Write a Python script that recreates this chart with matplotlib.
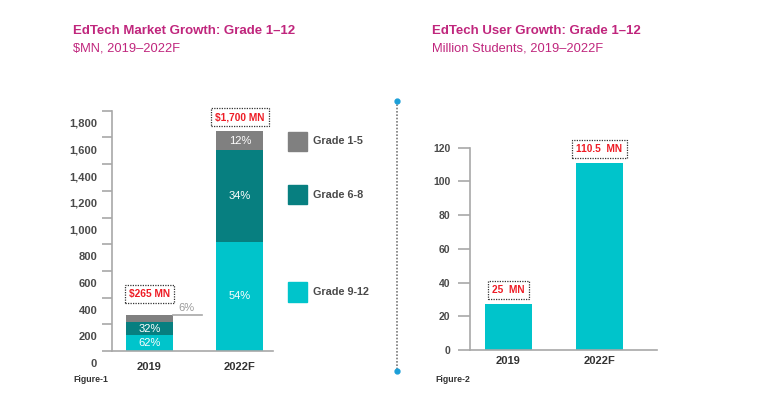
import matplotlib.pyplot as plt
from matplotlib.transforms import ScaledTranslation
from matplotlib.lines import Line2D
import numpy as np

plt.rcParams['font.family'] = ['Liberation Sans', 'DejaVu Sans']

# Figure-1 data: market size ($MN) split by grade band
years = ["2019", "2022F"]
grade_9_12 = [117, 817]
grade_6_8 = [100, 688]
grade_1_5 = [50, 142]
pct_9_12 = ["62%", "54%"]
pct_6_8 = ["32%", "34%"]
pct_1_5 = ["6%", "12%"]
market_labels = ["$265 MN", "$1,700 MN"]
market_ticks = [0, 200, 400, 600, 800, 1000, 1200, 1400, 1600, 1800]

# Figure-2 data: users (million students)
users = [27.5, 111]
user_labels = ["25  MN", "110.5  MN"]
user_ticks = [0, 20, 40, 60, 80, 100, 120]

MAGENTA = "#c0267d"
C_1_5 = "#808080"
C_6_8 = "#077f80"
C_9_12 = "#00c4cb"
AXIS = "#a8a8a8"
TXT = "#4a4a4a"

fig = plt.figure(figsize=(7.68, 3.97), dpi=100)

def px(x, y):
    return x / 768, 1 - y / 397

# titles
fig.text(*px(73, 31), "EdTech Market Growth: Grade 1–12", color=MAGENTA,
         fontsize=9.5, fontweight="bold", va="center")
fig.text(*px(73, 48.5), "$MN, 2019–2022F", color=MAGENTA, fontsize=9.3, va="center")
fig.text(*px(432, 31), "EdTech User Growth: Grade 1–12", color=MAGENTA,
         fontsize=9.5, fontweight="bold", va="center")
fig.text(*px(432, 48.5), "Million Students, 2019–2022F", color=MAGENTA, fontsize=9.3, va="center")

# ---- Figure 1: stacked bars
ax1 = fig.add_axes([112 / 768, 46 / 397, 161 / 768, 240.3 / 397])
x = np.arange(len(years))
w = 0.52
b1 = ax1.bar(x, grade_9_12, w, color=C_9_12, label="Grade 9-12")
b2 = ax1.bar(x, grade_6_8, w, bottom=grade_9_12, color=C_6_8, label="Grade 6-8")
base2 = np.array(grade_9_12) + np.array(grade_6_8)
b3 = ax1.bar(x, grade_1_5, w, bottom=base2, color=C_1_5, label="Grade 1-5")
totals = base2 + np.array(grade_1_5)

ax1.set_xlim(-0.414, 1.365)
ax1.set_ylim(0, 1800)
ax1.set_yticks(market_ticks)
ax1.set_yticklabels([f"{t:,}" for t in market_ticks])
ax1.set_xticks(x)
ax1.set_xticklabels(years)
for s in ["top", "right"]:
    ax1.spines[s].set_visible(False)
for s in ["left", "bottom"]:
    ax1.spines[s].set_color(AXIS)
    ax1.spines[s].set_linewidth(1.2)
ax1.tick_params(axis="y", length=7.2, width=1.2, color=AXIS, pad=3.5,
                labelsize=8, labelcolor=TXT)
ax1.tick_params(axis="x", length=0, pad=8, labelsize=8, labelcolor="#333333")
for lab in ax1.get_yticklabels() + ax1.get_xticklabels():
    lab.set_fontweight("bold")
# labels in the original sit half a step below their ticks
shift = ScaledTranslation(0, -0.12, fig.dpi_scale_trans)
for lab in ax1.get_yticklabels():
    lab.set_transform(lab.get_transform() + shift)

# percentages inside segments
for i in range(len(years)):
    ax1.text(x[i], grade_9_12[i] / 2, pct_9_12[i], color="white", ha="center",
             va="center", fontsize=8)
    ax1.text(x[i], grade_9_12[i] + grade_6_8[i] / 2, pct_6_8[i], color="white",
             ha="center", va="center", fontsize=8)
ax1.text(x[1], base2[1] + grade_1_5[1] / 2, pct_1_5[1], color="white",
         ha="center", va="center", fontsize=8)
# small segment of 2019 labelled outside with a leader line
ax1.plot([x[0] + w / 2, 0.58], [totals[0], totals[0]], color=AXIS, lw=1.2, clip_on=False)
ax1.text(0.41, totals[0] + 15, pct_1_5[0], color="#9a9a9a", ha="center",
         va="bottom", fontsize=8)

box = dict(boxstyle="square,pad=0.4", fc="white", ec="#333333", ls=(0, (1, 1)), lw=0.9)
offs = [15.5, 10]
for i in range(len(years)):
    ax1.annotate(market_labels[i], (x[i], totals[i]), xytext=(0, offs[i]),
                 textcoords="offset points", ha="center", va="center",
                 color="#ee1c25", fontsize=7.3, fontweight="bold", bbox=box,
                 annotation_clip=False)

# legend drawn as squares + text to the right of the bars
leg_items = [(b3, "Grade 1-5", 141.5), (b2, "Grade 6-8", 194.5), (b1, "Grade 9-12", 292)]
for bars, name, yy in leg_items:
    fx, fy = px(287.5, yy)
    fig.patches.append(plt.Rectangle((fx, fy - 9.7 / 397), 19.3 / 768, 19.4 / 397,
                                     transform=fig.transFigure,
                                     color=bars.patches[0].get_facecolor()))
    fig.text(*px(313, yy), name, color=TXT, fontsize=7.8, fontweight="bold", va="center")

fig.text(*px(73, 380), "Figure-1", color="#333333", fontsize=6.3, fontweight="bold", va="center")

# ---- Figure 2: user bars
ax2 = fig.add_axes([470 / 768, 47 / 397, 187 / 768, 202.3 / 397])
ax2.bar(x, users, w, color=C_9_12)
ax2.set_xlim(-0.423, 1.632)
ax2.set_ylim(0, 120)
ax2.set_yticks(user_ticks)
ax2.set_xticks(x)
ax2.set_xticklabels(years)
for s in ["top", "right"]:
    ax2.spines[s].set_visible(False)
for s in ["left", "bottom"]:
    ax2.spines[s].set_color(AXIS)
    ax2.spines[s].set_linewidth(1.2)
ax2.tick_params(axis="y", length=9, width=1.2, color=AXIS, pad=5,
                labelsize=7.5, labelcolor=TXT)
ax2.tick_params(axis="x", length=0, pad=4, labelsize=8, labelcolor="#333333")
for lab in ax2.get_yticklabels() + ax2.get_xticklabels():
    lab.set_fontweight("bold")
for i in range(len(years)):
    ax2.annotate(user_labels[i], (x[i], users[i]), xytext=(0, 10),
                 textcoords="offset points", ha="center", va="center",
                 color="#ee1c25", fontsize=7.3, fontweight="bold", bbox=box,
                 annotation_clip=False)

fig.text(*px(435, 380), "Figure-2", color="#333333", fontsize=6.3, fontweight="bold", va="center")

# dotted separator between the two panels
sx, sy0 = px(397, 101)
_, sy1 = px(397, 371)
fig.add_artist(Line2D([sx, sx], [sy0, sy1], transform=fig.transFigure,
                      color="#7a7a7a", ls=(0, (1, 1)), lw=1.2))
fig.add_artist(Line2D([sx, sx], [sy0, sy1], transform=fig.transFigure, ls="none",
                      marker="o", markersize=3.5, color="#1b9fd8"))

fig.savefig("out.png", dpi=100)
